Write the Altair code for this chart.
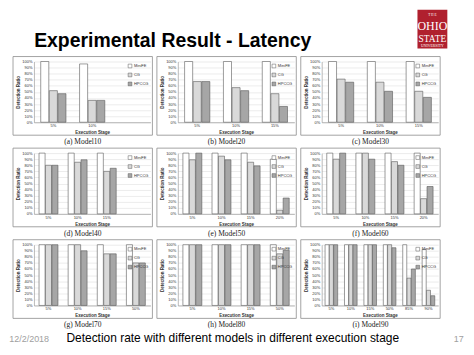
import altair as alt
import pandas as pd

# ---------------- data ----------------
series = ["MiniFE", "CG", "HPCCG"]
fills = ["#ffffff", "#d9d9d9", "#a6a6a6"]

captions = ["(a) Model10", "(b) Model20", "(c) Model30",
            "(d) Model40", "(e) Model50", "(f) Model60",
            "(g) Model70", "(h) Model80", "(i) Model90"]

stages_a = ["5%", "10%"]
minife_a = [100, 96]
cg_a = [52, 36]
hpccg_a = [47, 36]

stages_b = ["5%", "10%", "15%"]
minife_b = [100, 100, 100]
cg_b = [67, 57, 47]
hpccg_b = [67, 52, 26]

stages_c = ["5%", "10%", "15%"]
minife_c = [100, 100, 100]
cg_c = [71, 66, 51]
hpccg_c = [66, 51, 41]

stages_d = ["5%", "10%", "15%"]
minife_d = [100, 100, 100]
cg_d = [80, 85, 70]
hpccg_d = [80, 89, 75]

stages_e = ["5%", "10%", "15%", "20%"]
minife_e = [100, 100, 100, 90]
cg_e = [89, 95, 85, 6]
hpccg_e = [100, 89, 79, 26]

stages_f = ["5%", "10%", "15%", "20%"]
minife_f = [100, 100, 100, 100]
cg_f = [90, 100, 86, 25]
hpccg_f = [100, 90, 80, 45]

stages_g = ["5%", "10%", "15%", "50%"]
minife_g = [100, 100, 100, 100]
cg_g = [100, 100, 85, 70]
hpccg_g = [100, 90, 85, 70]

stages_h = ["5%", "10%", "15%", "50%"]
minife_h = [100, 100, 100, 100]
cg_h = [100, 100, 100, 85]
hpccg_h = [100, 100, 100, 91]

stages_i = ["5%", "10%", "15%", "50%", "85%", "90%"]
minife_i = [100, 100, 100, 100, 100, 92]
cg_i = [100, 100, 100, 100, 45, 25]
hpccg_i = [100, 100, 100, 95, 60, 16]

# number of category slots on each panel's x axis (Excel left empty slots)
slots = [3, 3, 3, 4, 4, 4, 4, 4, 6]

y_ticks = [0, 10, 20, 30, 40, 50, 60, 70, 80, 90, 100]

title_text = "Experimental Result - Latency"
footer_text = "Detection rate with different models in different execution stage"
date_text = "12/2/2018"
page_text = "17"

# ---------------- panels ----------------
W, H = 117, 61
ONE = [{}]


def panel(stages, mini, cg, hp, nslots, caption):
    rows = []
    for s, a, b, c in zip(stages, mini, cg, hp):
        rows.append({"stage": s, "series": series[0], "value": a})
        rows.append({"stage": s, "series": series[1], "value": b})
        rows.append({"stage": s, "series": series[2], "value": c})
    df = pd.DataFrame(rows)
    domain = list(stages) + [" " * (k + 1) for k in range(nslots - len(stages))]

    bars = alt.Chart(df).mark_bar(stroke="#595959", strokeWidth=0.6).encode(
        x=alt.X("stage:N",
                scale=alt.Scale(domain=domain, paddingInner=0.35, paddingOuter=0.175),
                axis=alt.Axis(title="Execution Stage", labelAngle=0, ticks=False,
                              grid=False, domainColor="#8c8c8c", domainWidth=0.6,
                              labelFontSize=4, labelPadding=1.5, labelColor="#333",
                              titleFontSize=4.5, titleFontWeight="bold",
                              titlePadding=2, titleColor="#333")),
        xOffset=alt.XOffset("series:N",
                            scale=alt.Scale(domain=series, paddingInner=0.06)),
        y=alt.Y("value:Q", scale=alt.Scale(domain=[0, 100]),
                axis=alt.Axis(values=y_ticks, labelExpr="datum.value + '%'",
                              title="Detection Ratio", ticks=False,
                              grid=True, gridColor="#d9d9d9", gridWidth=0.5,
                              domainColor="#8c8c8c", domainWidth=0.6,
                              labelFontSize=4, labelPadding=2, labelColor="#333",
                              titleFontSize=4.5, titleFontWeight="bold",
                              titlePadding=1, titleColor="#333")),
        fill=alt.Fill("series:N", scale=alt.Scale(domain=series, range=fills),
                      legend=alt.Legend(title=None, orient="top-right", offset=2,
                                        padding=0, labelFontSize=4, labelColor="#333",
                                        symbolType="square", symbolSize=14,
                                        symbolStrokeColor="#595959",
                                        symbolStrokeWidth=0.5, rowPadding=2,
                                        labelOffset=1.5)),
    )
    frame = alt.Chart(alt.Data(values=ONE)).mark_rect(
        filled=False, stroke="#8c8c8c", strokeWidth=0.8).encode(
        x=alt.value(-21), x2=alt.value(W + 2), y=alt.value(-5), y2=alt.value(H + 13))
    cap = alt.Chart(alt.Data(values=ONE)).mark_text(
        font="Liberation Serif", fontSize=7.5, color="#222",
        align="center", baseline="middle").encode(
        x=alt.value((W - 19) / 2), y=alt.value(H + 20), text=alt.value(caption))
    return alt.layer(frame, bars, cap).properties(width=W, height=H)


all_data = [
    (stages_a, minife_a, cg_a, hpccg_a),
    (stages_b, minife_b, cg_b, hpccg_b),
    (stages_c, minife_c, cg_c, hpccg_c),
    (stages_d, minife_d, cg_d, hpccg_d),
    (stages_e, minife_e, cg_e, hpccg_e),
    (stages_f, minife_f, cg_f, hpccg_f),
    (stages_g, minife_g, cg_g, hpccg_g),
    (stages_h, minife_h, cg_h, hpccg_h),
    (stages_i, minife_i, cg_i, hpccg_i),
]

panels = [panel(*d, slots[k], captions[k]) for k, d in enumerate(all_data)]


def indep(c):
    return c.resolve_scale(x="independent", y="independent",
                           xOffset="independent", fill="independent"
                           ).resolve_legend(fill="independent"
                           ).resolve_axis(x="independent", y="independent")


rows = [indep(alt.hconcat(*panels[r * 3:(r + 1) * 3], spacing=2.5)) for r in range(3)]

# ---------------- header / footer ----------------
HW = 458
hd = alt.Data(values=ONE)
title = alt.Chart(hd).mark_text(font="Liberation Sans", fontSize=19.5, fontWeight="bold",
                                color="#000", align="left", baseline="alphabetic").encode(
    x=alt.value(25), y=alt.value(37), text=alt.value(title_text))
logo = alt.Chart(hd).mark_rect(color="#b0202e").encode(
    x=alt.value(410), x2=alt.value(440), y=alt.value(0), y2=alt.value(39))
logo_the = alt.Chart(hd).mark_text(font="Liberation Serif", fontSize=3.5, color="white",
                                   align="center", baseline="alphabetic").encode(
    x=alt.value(425), y=alt.value(6), text=alt.value("T   H   E"))
logo_ohio = alt.Chart(hd).mark_text(font="Liberation Serif", fontSize=12, color="white",
                                    align="center", baseline="alphabetic").encode(
    x=alt.value(425), y=alt.value(20), text=alt.value("OHIO"))
logo_state = alt.Chart(hd).mark_text(font="Liberation Serif", fontSize=9.5, color="white",
                                     align="center", baseline="alphabetic").encode(
    x=alt.value(425), y=alt.value(32), text=alt.value("STATE"))
logo_univ = alt.Chart(hd).mark_text(font="Liberation Serif", fontSize=3.8, color="white",
                                    align="center", baseline="alphabetic").encode(
    x=alt.value(425), y=alt.value(37.5), text=alt.value("UNIVERSITY"))
header = alt.layer(title, logo, logo_the, logo_ohio, logo_state, logo_univ).properties(
    width=HW, height=44)

fd = alt.Data(values=ONE)
f_date = alt.Chart(fd).mark_text(font="Liberation Sans", fontSize=9, color="#a0a0a0",
                                 align="left", baseline="alphabetic").encode(
    x=alt.value(0), y=alt.value(11), text=alt.value(date_text))
f_cap = alt.Chart(fd).mark_text(font="Liberation Sans", fontSize=12, color="#000",
                                align="center", baseline="alphabetic").encode(
    x=alt.value(224.5), y=alt.value(11), text=alt.value(footer_text))
f_page = alt.Chart(fd).mark_text(font="Liberation Sans", fontSize=9, color="#a0a0a0",
                                 align="center", baseline="alphabetic").encode(
    x=alt.value(451.5), y=alt.value(11), text=alt.value(page_text))
footer = alt.layer(f_date, f_cap, f_page).properties(width=HW, height=16)

chart = indep(alt.vconcat(header, *rows, footer, spacing=1, center=True)).properties(
    padding=0
).configure(font="Liberation Sans", background="white").configure_view(
    stroke="transparent")

chart.save("out.html", embed_options={"renderer": "svg", "actions": False})
